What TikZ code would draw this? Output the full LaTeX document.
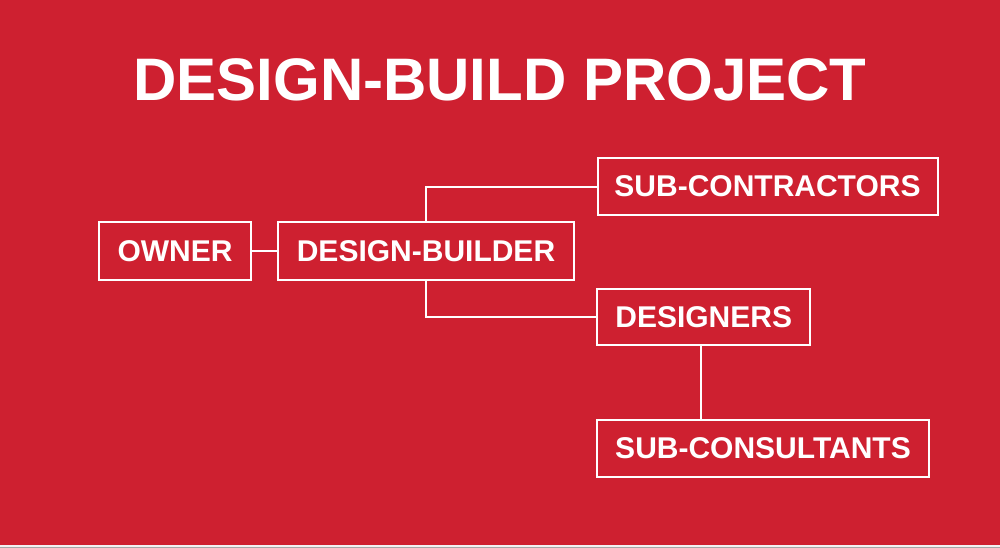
\documentclass[tikz,border=0pt]{standalone}
\usepackage{fontspec}
\setmainfont{Liberation Sans}
\definecolor{bgred}{RGB}{206,32,48}
\begin{document}
\begin{tikzpicture}[x=1pt,y=-1pt,
  box/.style={draw=white, line width=2pt, inner sep=0pt, text=white,
    font=\bfseries\fontsize{30}{36}\selectfont},
  link/.style={draw=white, line width=2pt}]
\fill[bgred] (0,0) rectangle (1000,545);
\fill[white!90!gray] (0,545) rectangle (1000,546.5);
\fill[gray!70] (0,546.5) rectangle (1000,548);
\useasboundingbox (0,0) rectangle (1000,548);
\node[text=white, inner sep=0pt, font=\bfseries\fontsize{60}{72}\selectfont] (title) at (500,79.5) {DESIGN-BUILD PROJECT};
\node[box, minimum width=152pt, minimum height=58pt] (owner) at (175,251) {OWNER};
\node[box, minimum width=296pt, minimum height=58pt] (db) at (426,251) {DESIGN-BUILDER};
\node[box, minimum width=340pt, minimum height=56pt] (subcon) at (767.5,186.5) {SUB-CONTRACTORS};
\node[box, minimum width=213pt, minimum height=56pt] (designers) at (703.7,317) {DESIGNERS};
\node[box, minimum width=332pt, minimum height=57pt] (subcons) at (763,448) {SUB-CONSULTANTS};
\draw[link] (owner.east) -- (db.west);
\draw[link] (db.north) |- (subcon.west);
\draw[link] (db.south) |- (designers.west);
\draw[link] ([xshift=-3pt]designers.south) -- ([xshift=-3pt]designers.south |- subcons.north);
\end{tikzpicture}
\end{document}
